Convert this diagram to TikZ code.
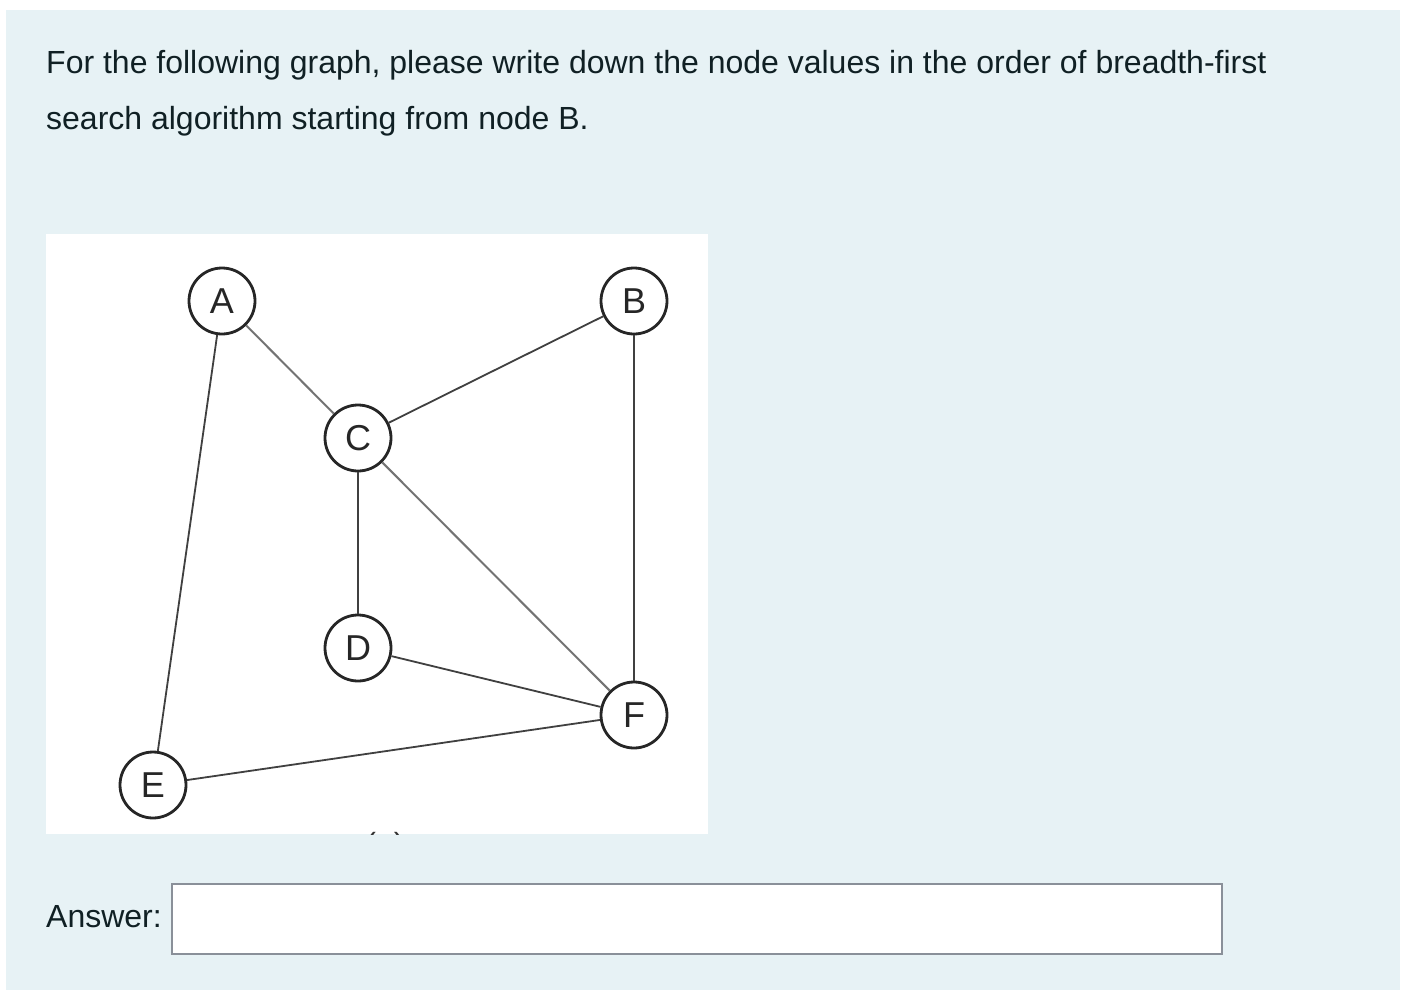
\documentclass[tikz,border=0pt]{standalone}
\usepackage{fontspec}
\setmainfont{Liberation Sans}
\begin{document}
\begin{tikzpicture}[x=1pt,y=-1pt,
  vtx/.style={circle,draw=black!85,line width=2.8pt,fill=white,minimum size=66pt,inner sep=0pt,font=\fontsize{36}{36}\selectfont,text=black!85},
  dark/.style={draw=black!75,line width=1.8pt},
  grey/.style={draw=black!55,line width=2pt},
  qtext/.style={anchor=base west,inner sep=0pt,text={rgb,255:red,16;green,32;blue,36},font=\fontsize{32}{32}\selectfont}]
\useasboundingbox (0,0) rectangle (1408,996);
\fill[white] (0,0) rectangle (1408,996);
\fill[fill={rgb,255:red,231;green,242;blue,245}] (6,10) rectangle (1400,990);
\node[qtext] (l1) at (46,73) {For the following graph, please write down the node values in the order of breadth-first};
\node[qtext] (l2) at (46,129) {search algorithm starting from node B.};
\fill[white] (46,234) rectangle (708,834);
\begin{scope}
\clip (46,234) rectangle (708,834);
\node[anchor=base,inner sep=0pt,font=\fontsize{32}{32}\selectfont,text=black!80] (cap) at (385,855) {(a)};
\end{scope}
\node[vtx] (A) at (222,301) {A};
\node[vtx] (B) at (634,301) {B};
\node[vtx] (C) at (358,438) {C};
\node[vtx] (D) at (358,648) {D};
\node[vtx] (F) at (634,715) {F};
\node[vtx] (E) at (153,785) {E};
\path[grey] (A) -- (C);
\path[grey] (C) -- (F);
\path[dark] (A) -- (E);
\path[dark] (B) -- (C);
\path[dark] (B) -- (F);
\path[dark] (C) -- (D);
\path[dark] (D) -- (F);
\path[dark] (E) -- (F);
\node[qtext] (ans) at (46,927) {Answer:};
\node[draw={rgb,255:red,138;green,144;blue,153},line width=2pt,fill=white,minimum width=1050pt,minimum height=70pt,inner sep=0pt,anchor=north west] (box) at (171,883) {};
\end{tikzpicture}
\end{document}
